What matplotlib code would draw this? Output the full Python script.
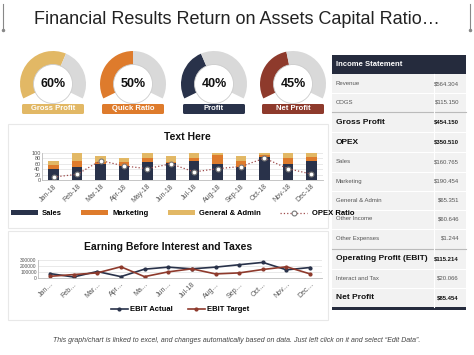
import numpy as np
import matplotlib
matplotlib.use("Agg")
import matplotlib.pyplot as plt
import matplotlib.patches as patches

plt.rcParams['font.family'] = ['Liberation Sans', 'DejaVu Sans']

# ---- data ----
gauge_names = ["Gross Profit", "Quick Ratio", "Profit", "Net Profit"]
gauge_values = [60, 50, 40, 45]
gauge_colors = ["#E2B865", "#DE7B2C", "#29324A", "#8E3A2C"]

months = ["Jan-18", "Feb-18", "Mar-18", "Apr-18", "May-18", "Jun-18",
          "Jul-18", "Aug-18", "Sep-18", "Oct-18", "Nov-18", "Dec-18"]
sales = [40, 49, 59, 51, 68, 62, 70, 59, 50, 86, 60, 70]
marketing = [14, 21, 8, 17, 15, 5, 12, 32, 21, 6, 22, 17]
gen_admin = [18, 30, 23, 13, 17, 23, 18, 9, 19, 8, 18, 13]
opex_ratio = [11, 21, 72, 52, 42, 60, 30, 42, 50, 81, 42, 22]

ebit_labels = ["Jan…", "Feb…", "Mar…", "Apr…", "Ma…", "Jun…",
               "Jul-18", "Aug…", "Sep…", "Oct…", "Nov…", "Dec…"]
ebit_actual = [74000, 17000, 108000, 23000, 147000, 181000,
               153000, 181000, 221000, 260000, 136000, 175000]
ebit_target = [28000, 57000, 85000, 187000, 23000, 102000,
               153000, 68000, 85000, 142000, 187000, 68000]

stmt_labels = ["Revenue", "COGS", "Gross Profit", "OPEX", "Sales", "Marketing",
               "General & Admin", "Other Income", "Other Expenses",
               "Operating Profit (EBIT)", "Interact and Tax", "Net Profit"]
stmt_values = ["$564.304", "$115.150", "$454.150", "$350.510", "$160.765",
               "$190.454", "$65.351", "$60.646", "$1.244", "$115.214",
               "$20.066", "$85.454"]
stmt_bold = [False, False, True, True, False, False, False, False, False,
             True, False, True]

W, H = 474, 355
fig = plt.figure(figsize=(W / 100, H / 100), dpi=100)
bg = fig.add_axes([0, 0, 1, 1])
bg.set_xlim(0, W)
bg.set_ylim(0, H)
bg.axis('off')


def Y(y):
    return H - y


# title and side marks
bg.text(237, Y(19), "Financial Results Return on Assets Capital Ratio…",
        ha='center', va='center', fontsize=13, color='#222222')
for x in (3, 470):
    bg.plot([x, x], [Y(4), Y(30)], color='#888888', lw=0.8)
    bg.plot(x, Y(30), 'o', color='#888888', ms=1.5)

# panel outlines
for (x0, y0, x1, y1) in [(8, 124, 328, 228), (8, 231, 328, 320)]:
    bg.add_patch(patches.Rectangle((x0, Y(y1)), x1 - x0, y1 - y0,
                                   fill=False, ec='#E8E8E8', lw=0.8))

# gauges
centers = [53, 133, 214, 293]
start, span = 206, 232
for cx, name, val, col in zip(centers, gauge_names, gauge_values, gauge_colors):
    cy = Y(84)
    mid = start - span * val / 100
    bg.add_patch(patches.Wedge((cx, cy), 33, mid, start, width=14, fc=col, ec='none'))
    bg.add_patch(patches.Wedge((cx, cy), 33, start - span, mid, width=14,
                               fc='#D9D9D9', ec='none'))
    bg.add_patch(patches.Circle((cx, cy), 19.5, fc='white', ec='#CCCCCC', lw=0.6))
    bg.text(cx, cy, f"{val}%", ha='center', va='center', fontsize=9,
            fontweight='bold', color='#111111')
    bg.add_patch(patches.FancyBboxPatch((cx - 31, Y(114)), 62, 10,
                                        boxstyle="round,pad=0,rounding_size=1.5",
                                        fc=col, ec='none'))
    bg.text(cx, Y(109), name, ha='center', va='center', fontsize=5.5,
            fontweight='bold', color='white')

# income statement table
tx0, tx1 = 332, 466
bg.add_patch(patches.Rectangle((tx0, Y(74)), tx1 - tx0, 19, fc='#252B3D', ec='none'))
bg.text(tx0 + 4, Y(64.5), "Income Statement", ha='left', va='center',
        fontsize=5.5, fontweight='bold', color='white')
bounds = [74, 93, 112, 132, 152, 171.5, 190.5, 209.5, 228.5, 248.5, 268.5, 288, 307]
bg.add_patch(patches.Rectangle((tx0, Y(307)), tx1 - tx0, 307 - 74,
                               fc='#F2F2F2', ec='none'))
for b in bounds[1:-1]:
    c = '#BBBBBB' if b in (112, 248.5) else 'white'
    bg.plot([tx0, tx1], [Y(b), Y(b)], color=c, lw=0.8)
bg.plot([434, 434], [Y(74), Y(307)], color='white', lw=0.8)
bg.add_patch(patches.Rectangle((tx0, Y(309.5)), tx1 - tx0, 2.5, fc='#252B3D', ec='none'))
for i, (lab, v, b) in enumerate(zip(stmt_labels, stmt_values, stmt_bold)):
    yc = Y((bounds[i] + bounds[i + 1]) / 2)
    if b:
        bg.text(tx0 + 4, yc, lab, ha='left', va='center', fontsize=6,
                fontweight='bold', color='#111111')
        bg.text(tx1 - 7, yc, v, ha='right', va='center', fontsize=4.3,
                fontweight='bold', color='#111111')
    else:
        bg.text(tx0 + 4, yc, lab, ha='left', va='center', fontsize=4.3, color='#555555')
        bg.text(tx1 - 7, yc, v, ha='right', va='center', fontsize=4.3, color='#555555')

# footer
bg.text(237, Y(341), "This graph/chart is linked to excel, and changes automatically "
        "based on data. Just left click on it and select \u201cEdit Data\u201d.",
        ha='center', va='center', fontsize=5, style='italic', color='#444444')

# ---- bar chart ----
ax = fig.add_axes([42 / W, 1 - 180 / H, (323 - 42) / W, 27 / H])
x = np.arange(len(months))
b1 = ax.bar(x, sales, width=0.45, color='#29324A', label='Sales')
b2 = ax.bar(x, marketing, width=0.45, bottom=sales, color='#DE7B2C', label='Marketing')
bottom2 = np.array(sales) + np.array(marketing)
b3 = ax.bar(x, gen_admin, width=0.45, bottom=bottom2, color='#E2B865',
            label='General & Admin')
ln, = ax.plot(x, opex_ratio, ':', color='#9E4A4A', lw=0.9, marker='o', ms=3.5,
              mfc='white', mec='#777777', mew=0.8, label='OPEX Ratio')
ax.set_xlim(-0.5, 11.5)
ax.set_ylim(0, 100)
ax.set_yticks(range(0, 101, 20))
ax.set_xticks(x)
ax.set_xticklabels(months, rotation=45, ha='right', rotation_mode='anchor',
                   fontsize=5, color='#555555')
ax.tick_params(axis='y', labelsize=4, labelcolor='#555555', length=0, pad=1)
ax.tick_params(axis='x', length=0, pad=2)
ax.grid(axis='y', color='#E0E0E0', lw=0.5)
ax.set_axisbelow(True)
for s in ['top', 'right']:
    ax.spines[s].set_visible(False)
for s in ['left', 'bottom']:
    ax.spines[s].set_color('#BBBBBB')
    ax.spines[s].set_linewidth(0.6)
bg.text(187, Y(137), "Text Here", ha='center', va='center', fontsize=7.5,
        fontweight='bold', color='#111111')
ax.legend(handles=[b1, b2, b3, ln], loc='center', ncol=4,
          bbox_to_anchor=(0.5, -1.25), frameon=False,
          prop={'size': 5.5, 'weight': 'bold'}, handlelength=3.5,
          columnspacing=2.5, handletextpad=0.6)

# ---- EBIT chart ----
ax2 = fig.add_axes([38 / W, 1 - 278 / H, (322 - 38) / W, 18 / H])
ax2.plot(x, ebit_actual, '-', color='#29324A', lw=1.2, marker='o', ms=2,
         label='EBIT Actual')
ax2.plot(x, ebit_target, '-', color='#8E3A2C', lw=1.2, marker='o', ms=2,
         label='EBIT Target')
ax2.set_xlim(-0.5, 11.5)
ax2.set_ylim(0, 300000)
ax2.set_yticks(range(0, 300001, 100000))
ax2.set_yticklabels(["0", "100000", "200000", "300000"])
ax2.set_xticks(x)
ax2.set_xticklabels(ebit_labels, rotation=45, ha='right', rotation_mode='anchor',
                    fontsize=5, color='#555555')
ax2.tick_params(axis='y', labelsize=3.5, labelcolor='#555555', length=0, pad=1)
ax2.tick_params(axis='x', length=0, pad=2)
ax2.grid(axis='y', color='#E0E0E0', lw=0.5)
for s in ['top', 'right']:
    ax2.spines[s].set_visible(False)
for s in ['left', 'bottom']:
    ax2.spines[s].set_color('#BBBBBB')
    ax2.spines[s].set_linewidth(0.6)
bg.text(168, Y(247), "Earning Before Interest and Taxes", ha='center', va='center',
        fontsize=7.5, fontweight='bold', color='#111111')
ax2.legend(loc='center', ncol=2, bbox_to_anchor=(0.5, -1.75), frameon=False,
           prop={'size': 5.5, 'weight': 'bold'}, handlelength=2.2,
           columnspacing=2, handletextpad=0.3)

fig.savefig("out.png", dpi=100)
